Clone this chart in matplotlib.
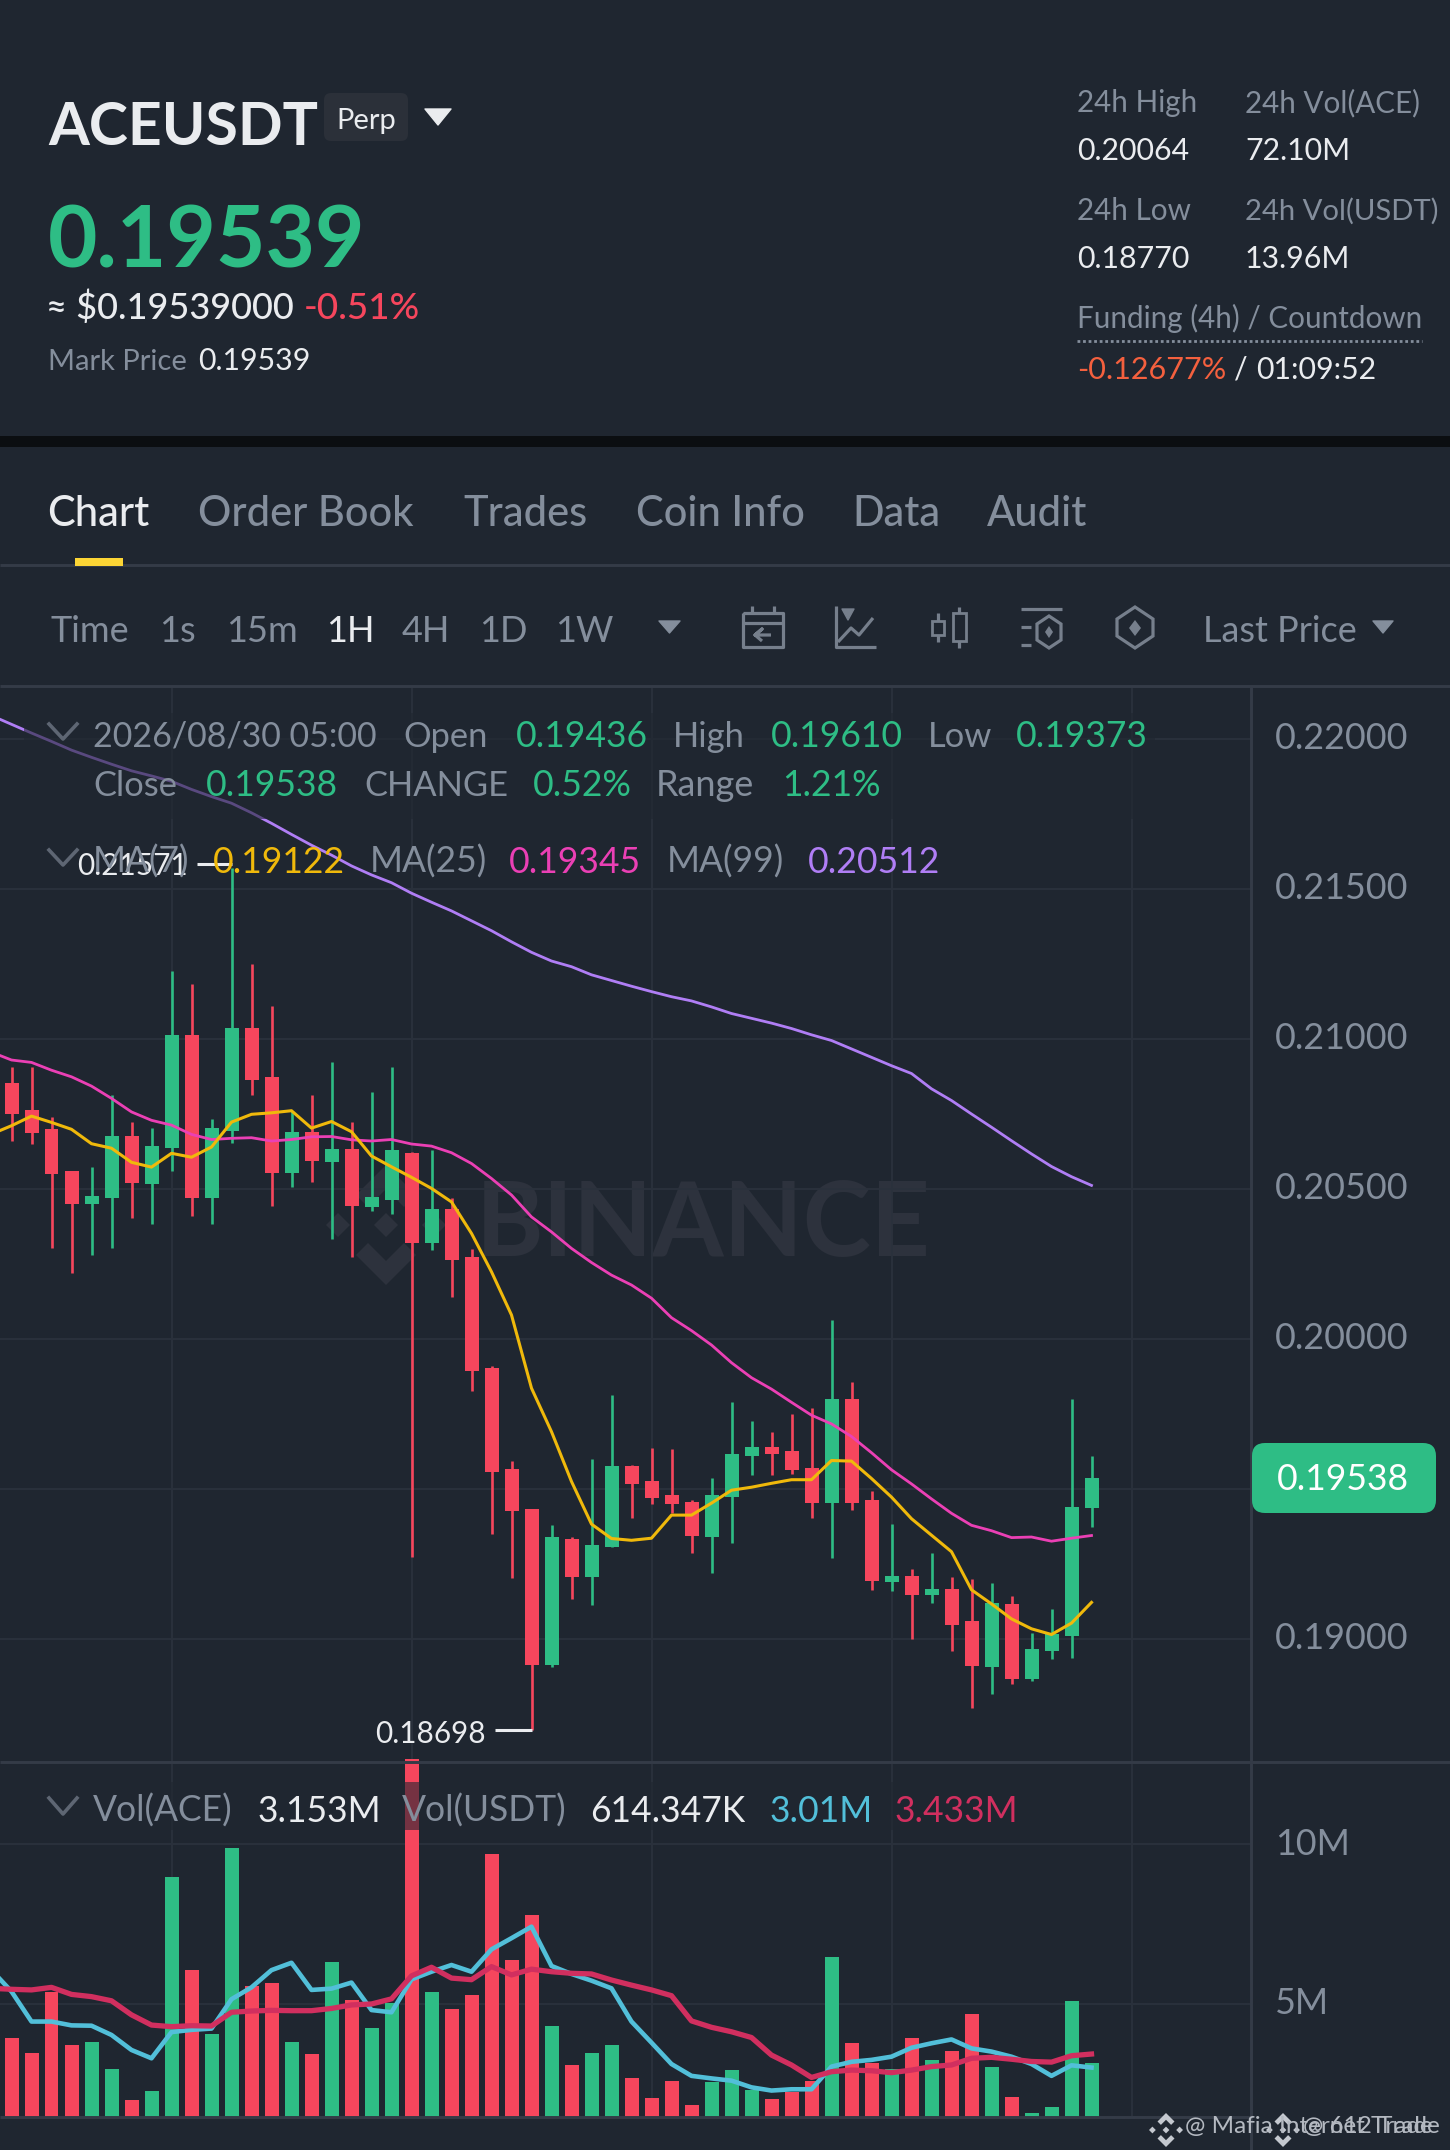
import matplotlib
matplotlib.use("Agg")
import matplotlib.pyplot as plt
from matplotlib.patches import Rectangle, FancyBboxPatch, Polygon
from matplotlib.transforms import ScaledTranslation
import numpy as np

plt.rcParams['font.family'] = ['Lato', 'DejaVu Sans']

# candles, oldest first
open_p = [0.20853, 0.20765, 0.20699, 0.20560, 0.20450, 0.20469, 0.20676, 0.20516, 0.20636, 0.21012, 0.20469,
          0.20693, 0.21037, 0.20872, 0.20554, 0.20689, 0.20591, 0.20632, 0.20440, 0.20463, 0.20621, 0.20319,
          0.20433, 0.20274, 0.19902, 0.19568, 0.19432, 0.18914, 0.19334, 0.19208, 0.19306, 0.19577, 0.19528,
          0.19479, 0.19457, 0.19341, 0.19473, 0.19609, 0.19639, 0.19627, 0.19570, 0.19454, 0.19799, 0.19464,
          0.19191, 0.19210, 0.19146, 0.19167, 0.19059, 0.18906, 0.19117, 0.18867, 0.18960, 0.19009, 0.19436]
high_p = [0.20907, 0.20907, 0.20739, 0.20561, 0.20572, 0.20814, 0.20725, 0.20704, 0.21227, 0.21185, 0.20734,
          0.21571, 0.21250, 0.21110, 0.20761, 0.20812, 0.20922, 0.20725, 0.20824, 0.20907, 0.20624, 0.20629,
          0.20471, 0.20299, 0.19910, 0.19594, 0.19432, 0.19379, 0.19340, 0.19599, 0.19813, 0.19579, 0.19637,
          0.19633, 0.19464, 0.19536, 0.19791, 0.19726, 0.19689, 0.19749, 0.19770, 0.20064, 0.19858, 0.19493,
          0.19383, 0.19235, 0.19286, 0.19207, 0.19199, 0.19187, 0.19144, 0.19021, 0.19099, 0.19799, 0.19610]
low_p = [0.20661, 0.20650, 0.20305, 0.20219, 0.20280, 0.20305, 0.20404, 0.20384, 0.20561, 0.20410, 0.20384,
         0.20652, 0.20812, 0.20444, 0.20506, 0.20524, 0.20334, 0.20272, 0.20426, 0.20416, 0.19273, 0.20297,
         0.20139, 0.19827, 0.19351, 0.19202, 0.18698, 0.18907, 0.19135, 0.19114, 0.19306, 0.19405, 0.19451,
         0.19421, 0.19286, 0.19220, 0.19321, 0.19546, 0.19547, 0.19549, 0.19404, 0.19269, 0.19429, 0.19165,
         0.19161, 0.19000, 0.19120, 0.18961, 0.18770, 0.18817, 0.18851, 0.18860, 0.18933, 0.18936, 0.19373]
close_p = [0.20750, 0.20687, 0.20550, 0.20450, 0.20476, 0.20676, 0.20519, 0.20645, 0.21012, 0.20469, 0.20703,
           0.21037, 0.20863, 0.20552, 0.20689, 0.20595, 0.20633, 0.20442, 0.20473, 0.20629, 0.20319, 0.20432,
           0.20265, 0.19892, 0.19558, 0.19428, 0.18914, 0.19341, 0.19208, 0.19314, 0.19577, 0.19518, 0.19469,
           0.19451, 0.19343, 0.19481, 0.19617, 0.19639, 0.19617, 0.19564, 0.19454, 0.19799, 0.19453, 0.19195,
           0.19210, 0.19146, 0.19166, 0.19048, 0.18910, 0.19119, 0.18866, 0.18968, 0.19017, 0.19439, 0.19538]

# moving averages, these start one candle earlier (off the left edge)
ma7 = [0.20683, 0.20711, 0.20743, 0.20722, 0.20699, 0.20651, 0.20636, 0.20589, 0.20573, 0.20619, 0.20606, 0.20640,
       0.20723, 0.20749, 0.20754, 0.20761, 0.20703, 0.20725, 0.20691, 0.20610, 0.20574, 0.20539, 0.20502, 0.20457,
       0.20352, 0.20224, 0.20080, 0.19836, 0.19691, 0.19525, 0.19383, 0.19335, 0.19329, 0.19336, 0.19413, 0.19413,
       0.19453, 0.19496, 0.19506, 0.19519, 0.19531, 0.19531, 0.19595, 0.19593, 0.19535, 0.19473, 0.19401, 0.19346,
       0.19291, 0.19164, 0.19117, 0.19067, 0.19034, 0.19015, 0.19053, 0.19122]
ma25 = [0.20956, 0.20930, 0.20922, 0.20896, 0.20874, 0.20843, 0.20802, 0.20757, 0.20729, 0.20713, 0.20682, 0.20665,
        0.20669, 0.20671, 0.20660, 0.20665, 0.20674, 0.20675, 0.20664, 0.20660, 0.20665, 0.20650, 0.20643, 0.20621,
        0.20585, 0.20535, 0.20480, 0.20407, 0.20357, 0.20302, 0.20255, 0.20213, 0.20180, 0.20136, 0.20071, 0.20028,
        0.19980, 0.19921, 0.19871, 0.19833, 0.19789, 0.19746, 0.19717, 0.19675, 0.19621, 0.19564, 0.19517, 0.19467,
        0.19419, 0.19379, 0.19361, 0.19338, 0.19340, 0.19326, 0.19336, 0.19345]
ma99 = [0.22078, 0.22049, 0.22020, 0.21992, 0.21963, 0.21939, 0.21916, 0.21894, 0.21877, 0.21859, 0.21832, 0.21808,
        0.21786, 0.21754, 0.21719, 0.21682, 0.21646, 0.21613, 0.21577, 0.21547, 0.21521, 0.21486, 0.21456, 0.21427,
        0.21394, 0.21361, 0.21324, 0.21289, 0.21260, 0.21241, 0.21214, 0.21195, 0.21176, 0.21158, 0.21141, 0.21127,
        0.21107, 0.21085, 0.21069, 0.21053, 0.21035, 0.21014, 0.20995, 0.20967, 0.20939, 0.20911, 0.20885, 0.20834,
        0.20795, 0.20750, 0.20706, 0.20661, 0.20617, 0.20575, 0.20541, 0.20512]

# volume in millions
vol = [3.92, 3.48, 5.39, 3.72, 3.81, 2.96, 1.99, 2.27, 8.98, 6.06, 4.05, 9.87, 5.56, 5.66, 3.82, 3.43, 6.32, 5.11,
       4.24, 5.02, 12.67, 5.39, 4.83, 5.27, 9.69, 6.39, 7.79, 4.32, 3.09, 3.46, 3.73, 2.67, 2.06, 2.59, 1.83, 2.55,
       2.93, 2.31, 2.01, 2.25, 2.60, 6.48, 3.77, 3.14, 2.95, 3.94, 3.24, 3.52, 4.68, 3.02, 2.09, 1.58, 1.77, 5.08, 3.15]
vol_ma_blue = [6.06, 5.39, 4.45, 4.45, 4.33, 4.32, 4.03, 3.56, 3.30, 4.12, 4.19, 4.23, 5.15, 5.52, 6.06, 6.29, 5.44,
               5.48, 5.67, 4.81, 4.74, 5.77, 6.01, 6.22, 6.01, 6.71, 7.06, 7.42, 6.19, 5.94, 5.73, 5.49, 4.45, 3.79,
               3.12, 2.75, 2.67, 2.60, 2.39, 2.29, 2.33, 2.33, 3.04, 3.19, 3.25, 3.35, 3.63, 3.77, 3.89, 3.61, 3.51,
               3.35, 3.12, 2.75, 3.08, 3.01]
vol_ma_red = [5.49, 5.46, 5.44, 5.52, 5.30, 5.23, 5.10, 4.66, 4.34, 4.29, 4.32, 4.31, 4.74, 4.78, 4.80, 4.79, 4.79,
              4.86, 4.97, 5.00, 5.16, 5.88, 6.15, 5.81, 5.76, 6.17, 5.91, 6.09, 6.01, 5.96, 5.94, 5.75, 5.59, 5.44,
              5.26, 4.47, 4.27, 4.13, 3.95, 3.40, 3.09, 2.70, 2.88, 2.93, 2.91, 2.85, 2.93, 3.04, 3.09, 3.30, 3.33,
              3.27, 3.20, 3.18, 3.38, 3.433]

price_ticks = [0.19, 0.195, 0.20, 0.205, 0.21, 0.215, 0.22]
vol_ticks = [5, 10]
vol_tick_labels = ['5M', '10M']
time_ticks = [8, 20, 32, 44, 56]

BG = '#1f2630'
GRID = '#2a313c'
LINE = '#343b47'
GREEN = '#2ebd85'
RED = '#f6465d'
GRAY = '#848e9c'
WHITE = '#eaecef'
YELLOW = '#f0b90b'
PINK = '#eb40b5'
PURPLE = '#b07ef5'
BLUE = '#52bfd9'
CRIMSON = '#d12f5f'

W, H = 1450, 2150
fig = plt.figure(figsize=(14.5, 21.5), dpi=100, facecolor=BG)


def pane(top, bottom, right=1251):
    return fig.add_axes([0, 1 - bottom / H, right / W, (bottom - top) / H])


# background layer for the watermark, overlay layer for all the page text
bg = fig.add_axes([0, 0, 1, 1], zorder=0)
over = fig.add_axes([0, 0, 1, 1], zorder=3)
for a in (bg, over):
    a.set_xlim(0, W)
    a.set_ylim(H, 0)
    a.axis('off')
bg.set_facecolor(BG)


def logo(a, cx, cy, r, color, z=1):
    # binance mark: three diamonds and two chevrons
    for dx in (-0.8, 0, 0.8):
        a.add_patch(Polygon([(cx + (dx - 0.2) * r, cy), (cx + dx * r, cy - 0.2 * r),
                             (cx + (dx + 0.2) * r, cy), (cx + dx * r, cy + 0.2 * r)],
                            fc=color, ec='none', zorder=z))
    for s in (-1, 1):
        pts = [(0, 1), (0.5, 0.5), (0.3, 0.3), (0, 0.6), (-0.3, 0.3), (-0.5, 0.5)]
        a.add_patch(Polygon([(cx + x * r, cy + s * y * r) for x, y in pts], fc=color, ec='none', zorder=z))


logo(bg, 386, 1225, 60, '#2d323d')
bg.text(476, 1256, 'BINANCE', color='#2d323d', fontsize=74, fontweight='bold', va='baseline')

x = np.arange(len(close_p))
x_ma = np.arange(-1, len(close_p))
colors = [GREEN if c >= o else RED for o, c in zip(open_p, close_p)]

# price pane: candle i sits at pixel 11.5 + 20 * i
ax = pane(686, 1761.5)
ax.set_zorder(1)
ax.patch.set_alpha(0)
ax.set_xlim(-0.575, 61.975)
ax.set_ylim(0.185917, 0.221767)
ax.vlines(x, low_p, high_p, color=colors, lw=1.9, zorder=2)
ax.bar(x, np.abs(np.array(close_p) - np.array(open_p)), bottom=np.minimum(open_p, close_p),
       width=0.7, color=colors, zorder=2)
ax.plot(x_ma, ma99, color=PURPLE, lw=2.0, zorder=3)
ax.plot(x_ma, ma25, color=PINK, lw=2.0, zorder=3)
ax.plot(x_ma, ma7, color=YELLOW, lw=2.2, zorder=3)

# volume pane, the axis floor is not zero in the app
vx = pane(1758, 2117)
vx.set_zorder(1)
vx.patch.set_alpha(0)
vx.set_xlim(-0.575, 61.975)
vx.set_ylim(1.462, 12.70)
vx.bar(x, vol, width=0.7, color=colors, zorder=2)
vx.plot(x_ma, vol_ma_blue, color=BLUE, lw=3.3, zorder=3)
vx.plot(x_ma, vol_ma_red, color=CRIMSON, lw=3.8, zorder=4)

for a in (ax, vx):
    for s in a.spines.values():
        s.set_visible(False)
    a.set_xticks(time_ticks)
    a.grid(True, color=GRID, lw=1.4, zorder=0)
    a.set_axisbelow(True)
    a.tick_params(length=0, labelbottom=False, labelleft=False, labelright=True, right=True, left=False,
                  colors=GRAY, labelsize=25.8, pad=17)
    a.yaxis.tick_right()
ax.set_yticks(price_ticks)
ax.set_yticklabels([f'{p:.5f}' for p in price_ticks])
vx.set_yticks(vol_ticks)
vx.set_yticklabels(vol_tick_labels)
# tick labels sit a little above their grid lines
lift = ScaledTranslation(0, 2.2 / 72, fig.dpi_scale_trans)
for a in (ax, vx):
    for lab in a.get_yticklabels():
        lab.set_transform(lab.get_transform() + lift)

# high and low markers on the candles
hi = int(np.argmax(high_p))
lo = int(np.argmin(low_p))
ax.plot([hi - 1.75, hi], [high_p[hi] + 0.00012, high_p[hi] + 0.00012], color=WHITE, lw=2.2, zorder=6, solid_capstyle='butt')
ax.plot([lo - 1.85, lo], [low_p[lo], low_p[lo]], color=WHITE, lw=2.2, zorder=6, solid_capstyle='butt')
ax.annotate(f'{high_p[hi]:.5f}', (hi - 2.2, high_p[hi]), xytext=(0, 1), textcoords='offset points', color=WHITE,
            fontsize=21.4, ha='right', va='center', zorder=7, annotation_clip=False)
ax.annotate(f'{low_p[lo]:.5f}', (lo - 2.3, low_p[lo]), xytext=(0, -3), textcoords='offset points', color=WHITE,
            fontsize=21.4, ha='right', va='center', zorder=7)


def tx(px, py, s, color=GRAY, size=25.6, weight='normal', ha='left'):
    over.text(px, py, s, color=color, fontsize=size, fontweight=weight, ha=ha, va='baseline', zorder=5)


def hline(y, x0=0, x1=W, color=LINE, lw=2.1):
    over.plot([x0, x1], [y, y], color=color, lw=lw, zorder=2, solid_capstyle='butt')


def tri(x0, x1, y0, y1, color=GRAY):
    over.add_patch(Polygon([(x0, y0), (x1, y0), ((x0 + x1) / 2, y1)], fc=color, ec=color, lw=1, joinstyle='round', zorder=5))


def chevron(x0, x1, y0, y1):
    over.plot([x0, (x0 + x1) / 2, x1], [y0, y1, y0], color='#5e6673', lw=2.6, zorder=5)


# legend boxes dim whatever runs under them
over.add_patch(Rectangle((24, 713), 1131, 106, fc=BG, ec='none', alpha=0.6, zorder=1))
over.add_patch(Rectangle((44, 1782), 986, 48, fc=BG, ec='none', alpha=0.6, zorder=1))

# separators
over.add_patch(Rectangle((0, 436), W, 11, fc='#0b0e11', ec='none', zorder=2))
hline(565)
hline(686)
hline(1761.5)
hline(2117, 0, 1251)
over.plot([1251, 1251], [686, H], color=LINE, lw=2.1, zorder=2)
over.add_patch(Rectangle((75, 558), 48, 8, fc='#fcd535', ec='none', zorder=3))

# header left
tx(48, 145, 'ACEUSDT', WHITE, 42.4, 'bold')
over.add_patch(FancyBboxPatch((331, 100), 70, 34, boxstyle='round,pad=7,rounding_size=7', fc='#2b3039', ec='none', zorder=2))
tx(336, 129, 'Perp', WHITE, 21)
tri(425, 451, 109, 125, WHITE)
tx(48, 267, '0.19539', GREEN, 61.6, 'bold')
tx(46, 319, '≈ $0.19539000', WHITE, 26, 'medium')
tx(304, 319, '-0.51%', RED, 26.6, 'medium')
tx(48, 370, 'Mark Price', GRAY, 21)
tx(198, 370, '0.19539', WHITE, 21.8)

# header right
tx(1077, 112, '24h High', GRAY, 21.3)
tx(1245, 112, '24h Vol(ACE)', GRAY, 21.3)
tx(1077, 160, '0.20064', WHITE, 21.8)
tx(1245, 160, '72.10M', WHITE, 21.8)
tx(1077, 220, '24h Low', GRAY, 21.3)
tx(1245, 220, '24h Vol(USDT)', GRAY, 21.1)
tx(1077, 268, '0.18770', WHITE, 21.8)
tx(1245, 268, '13.96M', WHITE, 21.8)
tx(1077, 328, 'Funding (4h) / Countdown', GRAY, 21.3)
over.plot([1077, 1422], [341, 341], color=GRAY, lw=2, ls=(0, (1, 1)), zorder=5)
tx(1077, 379, '-0.12677%', '#f4603e', 22)
tx(1234, 379, '/', WHITE, 21.8)
tx(1256, 379, '01:09:52', WHITE, 21.8)

# tabs
tx(47, 526, 'Chart', WHITE, 30, 'medium')
for px, s in zip([198, 463, 636, 852, 987], ['Order Book', 'Trades', 'Coin Info', 'Data', 'Audit']):
    tx(px, 526, s, GRAY, 30, 'medium')

# toolbar
for px, s, c in zip([51, 159, 226, 326, 402, 479, 555], ['Time', '1s', '15m', '1H', '4H', '1D', '1W'],
                    [GRAY, GRAY, GRAY, WHITE, GRAY, GRAY, GRAY]):
    tx(px, 642, s, c, 26)
tx(1203, 642, 'Last Price', GRAY, 26)
tri(659, 680, 621, 633)
tri(1373, 1393, 621, 633)

ic = dict(color='#767f8c', lw=2.3, zorder=5, solid_capstyle='butt')
# calendar with arrow
over.plot([743, 783, 783, 743, 743], [613, 613, 647, 647, 613], **ic)
over.plot([743, 783], [623, 623], **ic)
over.plot([752, 752], [606, 613], **ic)
over.plot([774, 774], [606, 613], **ic)
over.plot([771, 755, 762, 755, 762], [635, 635, 629, 635, 641], **ic)
# chart with line
over.plot([836, 836, 876], [606, 647, 647], **ic)
over.plot([838, 851, 859, 873], [642, 628, 635, 618], **ic)
tri(842, 854, 609, 620, '#767f8c')
# candles
over.plot([938, 938], [613, 642], **ic)
over.add_patch(Rectangle((932, 621), 12, 14, fc=BG, ec='#767f8c', lw=2, zorder=5))
over.plot([959, 959], [607, 648], **ic)
over.add_patch(Rectangle((953, 613), 13, 28, fc=BG, ec='#767f8c', lw=2, zorder=5))
# settings
over.plot([1021, 1062], [609, 609], **ic)
over.plot([1021, 1031], [627, 627], **ic)
over.plot([1021, 1031], [645, 645], **ic)
over.add_patch(Polygon([(1049, 616), (1061, 624), (1061, 640), (1049, 648), (1037, 640), (1037, 624)],
                       fc='none', ec='#767f8c', lw=2.3, zorder=5))
over.add_patch(Polygon([(1049, 626), (1053, 632), (1049, 638), (1045, 632)], fc='#767f8c', ec='none', zorder=5))
# hexagon
over.add_patch(Polygon([(1135, 607), (1153, 619), (1153, 636), (1135, 648), (1117, 636), (1117, 619)],
                       fc='none', ec='#767f8c', lw=2.3, zorder=5))
over.add_patch(Polygon([(1135, 620), (1141, 628), (1135, 636), (1129, 628)], fc='#767f8c', ec='none', zorder=5))

# legend lines
chevron(49, 77, 724, 739)
tx(93, 747, '2026/08/30 05:00', GRAY, 24.4)
tx(403, 747, 'Open', GRAY, 24.8)
tx(516, 747, f'{open_p[-1]:.5f}', GREEN)
tx(673, 747, 'High', GRAY, 24.8)
tx(771, 747, f'{high_p[-1]:.5f}', GREEN)
tx(928, 747, 'Low', GRAY, 24.8)
tx(1016, 747, f'{low_p[-1]:.5f}', GREEN)
tx(93, 796, 'Close', GRAY, 24.8)
tx(206, 796, f'{close_p[-1]:.5f}', GREEN)
tx(364, 796, 'CHANGE', GRAY, 24.8)
tx(533, 796, '0.52%', GREEN)
tx(656, 796, 'Range', GRAY, 26)
tx(782, 796, '1.21%', GREEN)

chevron(49, 77, 850, 865)
tx(93, 873, 'MA(7)')
tx(213, 873, f'{ma7[-1]:.5f}', YELLOW)
tx(370, 873, 'MA(25)')
tx(509, 873, f'{ma25[-1]:.5f}', PINK)
tx(667, 873, 'MA(99)')
tx(808, 873, f'{ma99[-1]:.5f}', PURPLE)

chevron(49, 77, 1798, 1814)
tx(93, 1822, 'Vol(ACE)')
tx(258, 1822, '3.153M', WHITE)
tx(402, 1822, 'Vol(USDT)')
tx(590, 1822, '614.347K', WHITE)
tx(770, 1822, '3.01M', BLUE)
tx(895, 1822, '3.433M', CRIMSON)

# last price badge
over.add_patch(FancyBboxPatch((1264, 1455), 160, 46, boxstyle='round,pad=12,rounding_size=13', fc=GREEN, ec='none', zorder=4))
over.text(1343, 1479, f'{close_p[-1]:.5f}', color='white', fontsize=25.6, ha='center', va='center', zorder=5)

# repost credits, they overlap in the source
logo(over, 1166, 2130, 17, '#c4c8cf', z=5)
logo(over, 1283, 2130, 17, '#c4c8cf', z=5)
tx(1185, 2133, '@ Mafia Internet Trade', '#b4b9c1', 17.5)
tx(1303, 2133, '@ 612 Trade', '#b4b9c1', 17.5)

fig.savefig('out.png', dpi=100, facecolor=BG)
